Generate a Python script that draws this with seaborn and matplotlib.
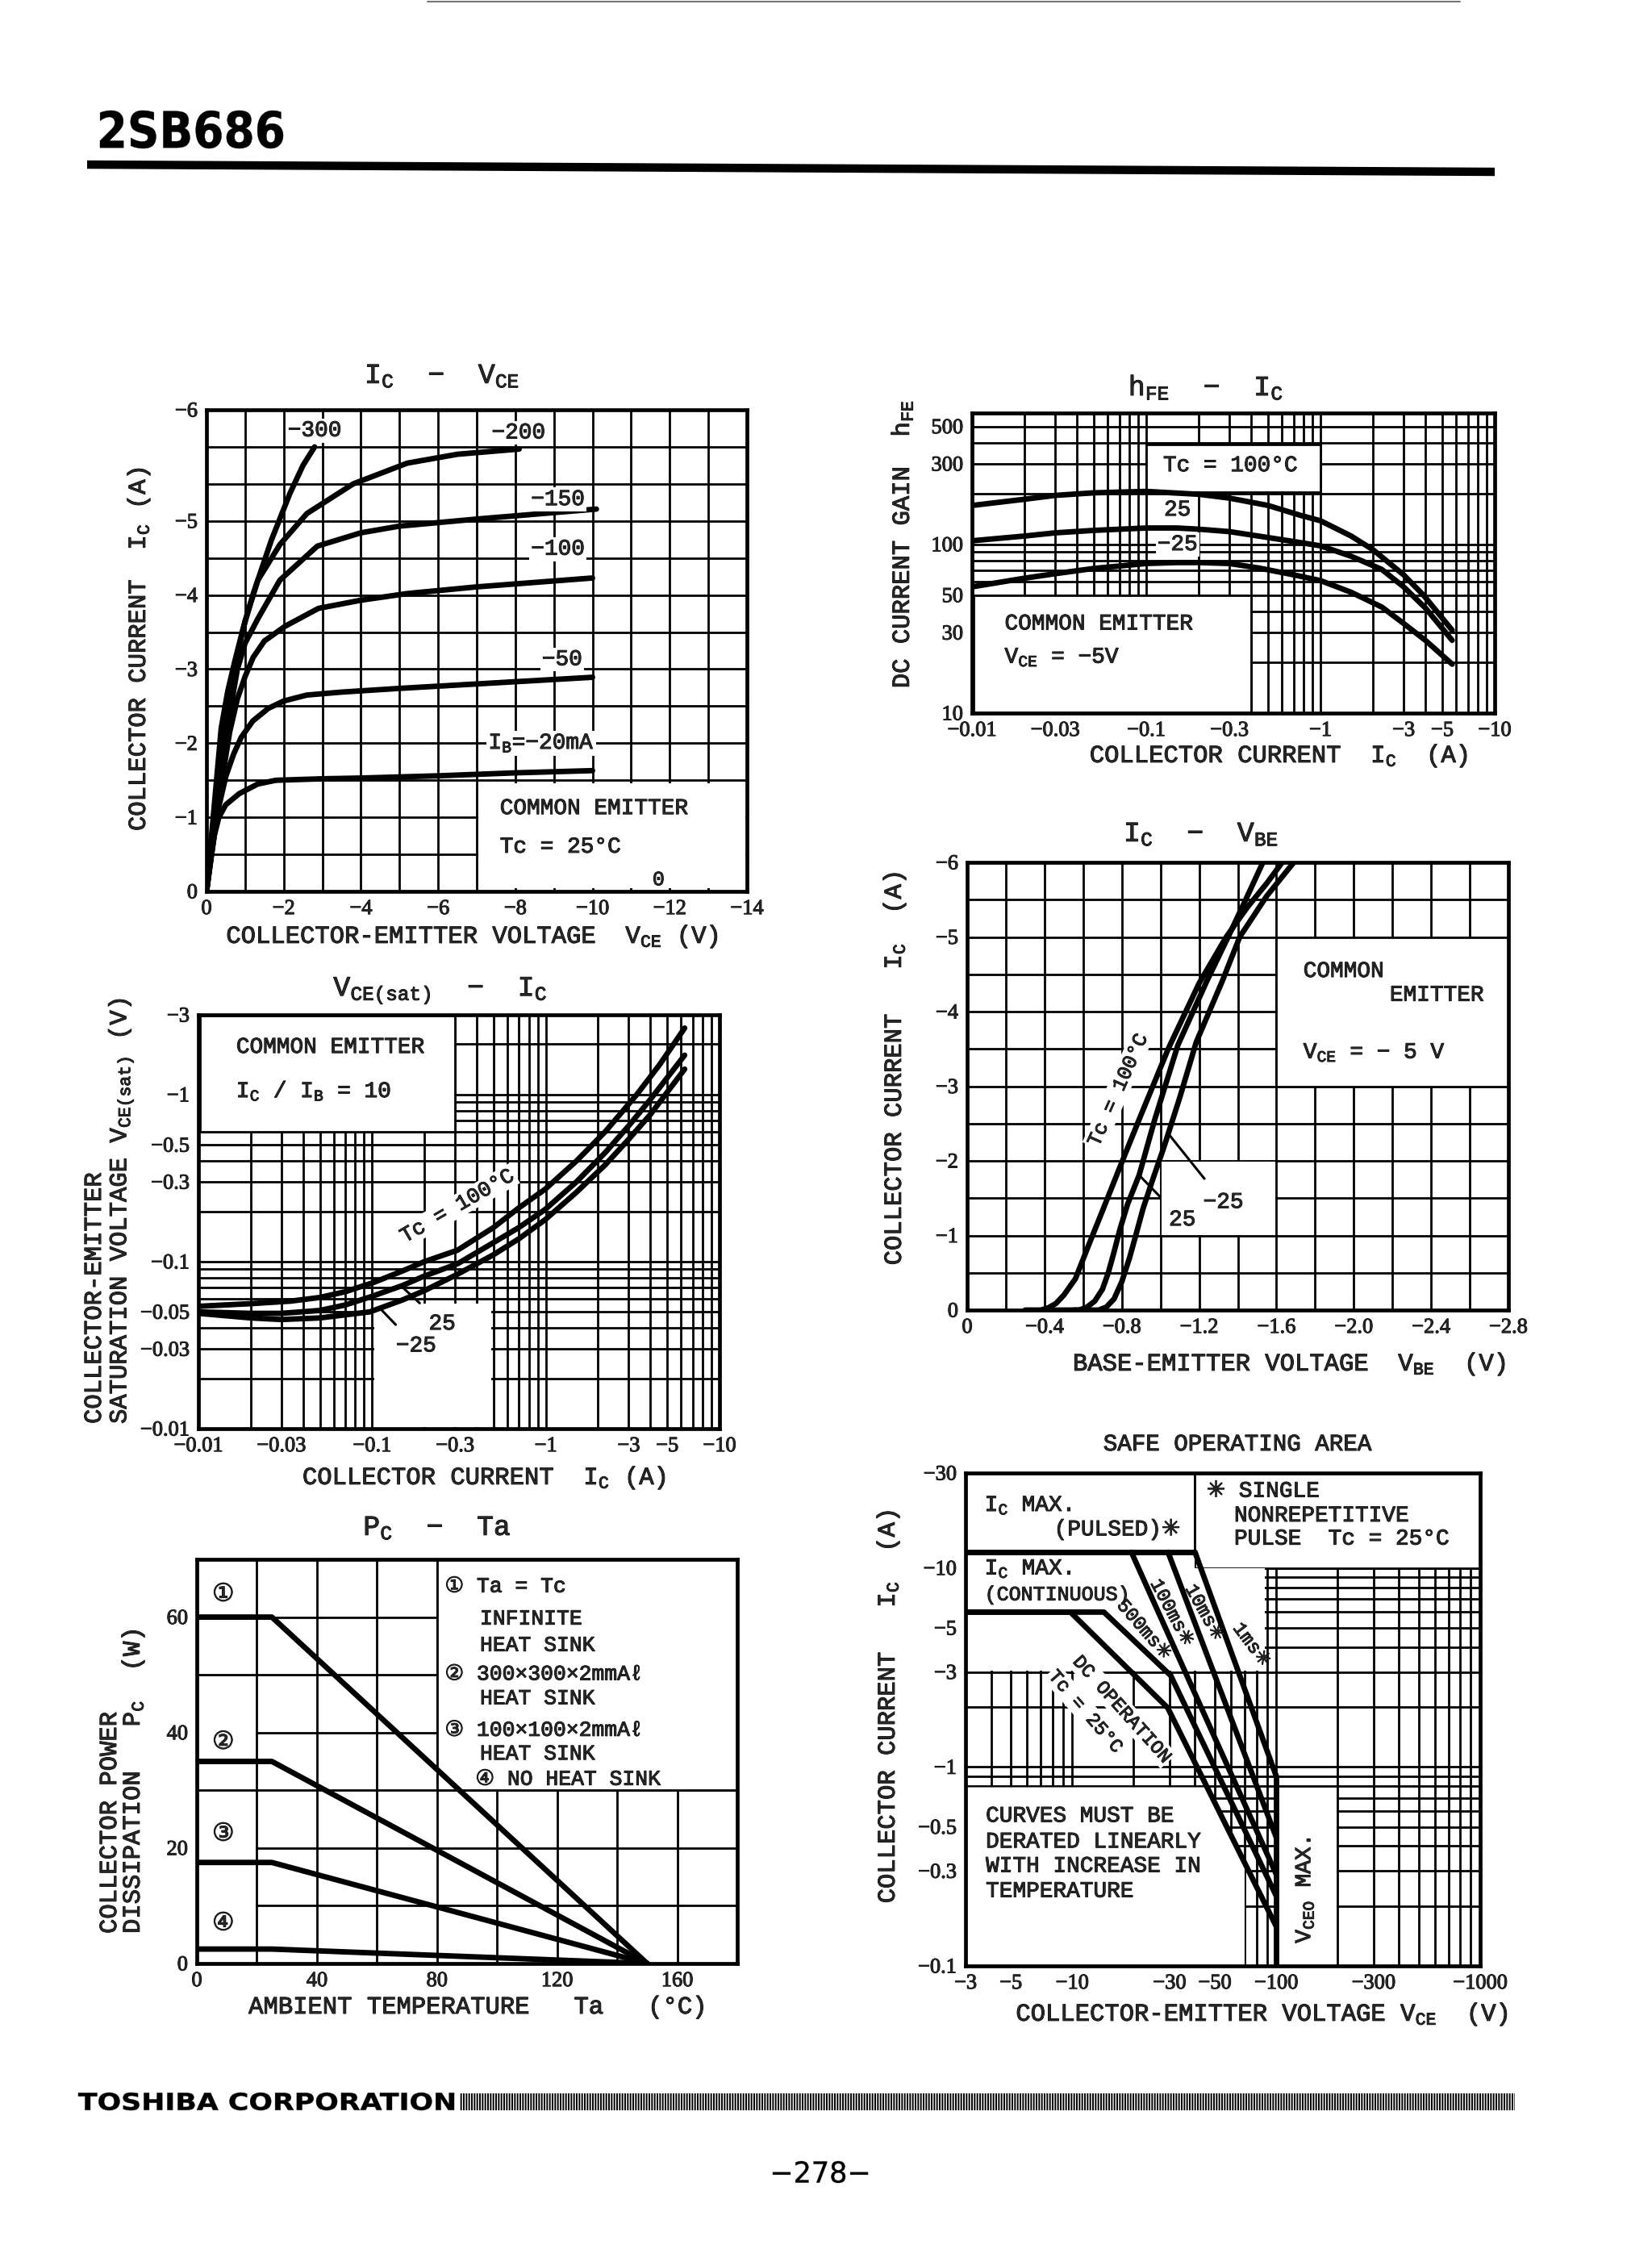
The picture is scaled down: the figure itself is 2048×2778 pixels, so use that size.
import numpy as np
import pandas as pd
import matplotlib
matplotlib.use("Agg")
import matplotlib.pyplot as plt
import matplotlib.patheffects as pe
import matplotlib.text as mtext
import seaborn as sns
from matplotlib.patches import Rectangle, Polygon, PathPatch
from matplotlib.ticker import MultipleLocator, NullFormatter, LogLocator
from matplotlib.textpath import TextPath
from matplotlib.font_manager import FontProperties
from matplotlib.transforms import Affine2D

# ------------------------------------------------------------------ data
# Ic - Vce  (|Vce| in V, |Ic| in A), one curve per base current
ib_labels = ["−300", "−200", "−150", "−100", "−50", "−20mA"]
icvce_300_v = [0, 0.2, 0.38, 0.55, 0.73, 0.95, 1.2, 1.68, 2.16, 2.5, 2.8]
icvce_300_i = [0, 1.15, 2.2, 2.7, 3.1, 3.55, 4.0, 4.74, 5.37, 5.75, 6.0]
icvce_200_v = [0, 0.2, 0.4, 0.6, 0.8, 1.0, 1.33, 1.9, 2.6, 3.8, 5.2, 6.5, 8.1]
icvce_200_i = [0, 0.9, 1.8, 2.6, 3.2, 3.65, 4.2, 4.68, 5.1, 5.5, 5.78, 5.9, 5.97]
icvce_150_v = [0, 0.2, 0.4, 0.6, 0.8, 1.0, 1.33, 1.9, 2.87, 4.0, 5.0, 7.1, 10.1]
icvce_150_i = [0, 0.8, 1.65, 2.4, 3.0, 3.35, 3.68, 4.2, 4.66, 4.84, 4.93, 5.03, 5.16]
icvce_100_v = [0, 0.2, 0.4, 0.6, 0.8, 1.0, 1.21, 1.5, 2.04, 2.9, 4.0, 5.2, 7.0, 10.0]
icvce_100_i = [0, 0.75, 1.5, 2.15, 2.6, 2.9, 3.16, 3.38, 3.58, 3.82, 3.93, 4.02, 4.11, 4.23]
icvce_50_v = [0, 0.15, 0.3, 0.5, 0.7, 0.9, 1.2, 1.6, 2.0, 2.6, 3.5, 5.0, 7.0, 10.0]
icvce_50_i = [0, 0.6, 1.1, 1.55, 1.85, 2.08, 2.3, 2.47, 2.57, 2.65, 2.69, 2.74, 2.8, 2.89]
icvce_20_v = [0, 0.1, 0.2, 0.32, 0.5, 0.85, 1.33, 1.8, 3.0, 4.0, 6.0, 8.0, 10.0]
icvce_20_i = [0, 0.4, 0.75, 1.0, 1.17, 1.32, 1.45, 1.5, 1.52, 1.53, 1.56, 1.6, 1.63]
icvce_xticks = [0, 2, 4, 6, 8, 10, 12, 14]
icvce_xlabels = ["0", "−2", "−4", "−6", "−8", "−10", "−12", "−14"]
icvce_yticks = [0, 1, 2, 3, 4, 5, 6.5]
icvce_ylabels = ["0", "−1", "−2", "−3", "−4", "−5", "−6"]

# hFE - Ic  (|Ic| in A)
hfe_100_ic = [0.01, 0.02, 0.03, 0.05, 0.1, 0.2, 0.3, 0.5, 0.76, 1.0, 1.5, 2.0, 3.0, 3.9, 5.7]
hfe_100_h = [170, 185, 195, 202, 206, 198, 188, 170, 149, 138, 112, 93, 66, 50, 31]
hfe_25_ic = [0.01, 0.02, 0.03, 0.05, 0.1, 0.15, 0.2, 0.3, 0.44, 0.7, 1.0, 1.5, 2.25, 3.0, 4.0, 5.7]
hfe_25_h = [105, 112, 117, 121, 125, 125, 123, 119, 112, 104, 98, 85, 71, 56, 42, 27]
hfe_m25_ic = [0.01, 0.015, 0.02, 0.03, 0.05, 0.1, 0.15, 0.2, 0.3, 0.44, 0.7, 1.0, 1.5, 2.25, 3.0, 4.0, 5.7]
hfe_m25_h = [56, 60, 63, 67, 72, 77, 78, 78, 77, 72.5, 66, 61, 52, 42.5, 34, 27, 19.5]
hfe_xticks = [0.01, 0.03, 0.1, 0.3, 1, 3, 5, 10]
hfe_xlabels = ["−0.01", "−0.03", "−0.1", "−0.3", "−1", "−3", "−5", "−10"]
hfe_yticks = [10, 30, 50, 100, 300, 500]
hfe_ylabels = ["10", "30", "50", "100", "300", "500"]

# Vce(sat) - Ic  (|Ic| in A, |Vce(sat)| in V)
sat_100_ic = [0.01, 0.02, 0.034, 0.05, 0.07, 0.102, 0.15, 0.2, 0.31, 0.5, 0.7, 0.99, 1.5, 2.2, 3.34, 4.5, 6.3]
sat_100_v = [0.054, 0.056, 0.058, 0.061, 0.066, 0.075, 0.088, 0.1, 0.117, 0.16, 0.21, 0.271, 0.4, 0.6, 1.0, 1.5, 2.5]
sat_25_ic = [0.01, 0.02, 0.03, 0.05, 0.07, 0.1, 0.15, 0.2, 0.31, 0.5, 0.7, 0.99, 1.5, 2.2, 3.0, 4.0, 6.3]
sat_25_v = [0.05, 0.049, 0.049, 0.051, 0.055, 0.062, 0.072, 0.082, 0.097, 0.13, 0.16, 0.205, 0.3, 0.45, 0.65, 0.935, 1.72]
sat_m25_ic = [0.01, 0.02, 0.03, 0.05, 0.07, 0.097, 0.15, 0.2, 0.31, 0.5, 0.7, 0.99, 1.5, 2.2, 3.0, 4.0, 6.3]
sat_m25_v = [0.049, 0.046, 0.045, 0.046, 0.048, 0.05, 0.059, 0.067, 0.084, 0.11, 0.137, 0.178, 0.26, 0.38, 0.54, 0.76, 1.42]
sat_yticks = [0.01, 0.03, 0.05, 0.1, 0.3, 0.5, 1, 3]
sat_ylabels = ["−0.01", "−0.03", "−0.05", "−0.1", "−0.3", "−0.5", "−1", "−3"]

# Ic - Vbe  (|Vbe| in V, |Ic| in A)
vbe_100_v = [0.30, 0.38, 0.42, 0.46, 0.50, 0.56, 0.63, 0.70, 0.80, 0.90, 1.04, 1.20, 1.34, 1.45, 1.55, 1.63]
vbe_100_i = [0.0, 0.0, 0.03, 0.09, 0.20, 0.42, 0.88, 1.33, 1.98, 2.62, 3.50, 4.38, 5.00, 5.40, 5.72, 6.00]
vbe_25_v = [0.45, 0.58, 0.62, 0.66, 0.70, 0.73, 0.76, 0.79, 0.83, 0.89, 0.97, 1.09, 1.24, 1.35, 1.45, 1.53]
vbe_25_i = [0.0, 0.0, 0.04, 0.12, 0.28, 0.50, 0.78, 1.08, 1.42, 1.81, 2.55, 3.55, 4.41, 5.00, 5.55, 6.00]
vbe_m25_v = [0.55, 0.68, 0.72, 0.76, 0.80, 0.84, 0.87, 0.91, 0.96, 1.02, 1.10, 1.185, 1.32, 1.41, 1.55, 1.69]
vbe_m25_i = [0.0, 0.0, 0.04, 0.15, 0.38, 0.70, 0.98, 1.36, 1.75, 2.20, 2.85, 3.59, 4.41, 5.00, 5.55, 6.00]
vbe_xticks = [0, 0.4, 0.8, 1.2, 1.6, 2.0, 2.4, 2.8]
vbe_xlabels = ["0", "−0.4", "−0.8", "−1.2", "−1.6", "−2.0", "−2.4", "−2.8"]
vbe_yticks = [0, 1, 2, 3, 4, 5, 6]
vbe_ylabels = ["0", "−1", "−2", "−3", "−4", "−5", "−6"]

# Pc - Ta
pc_ta = [0, 25, 150]
pc_1 = [60, 60, 0]
pc_2 = [35, 35, 0]
pc_3 = [17.5, 17.5, 0]
pc_4 = [2.5, 2.5, 0]
pc_xticks = [0, 40, 80, 120, 160]
pc_yticks = [0, 20, 40, 60]

# Safe operating area  (|Vce| in V, |Ic| in A)
soa_pulsed_v = [3, 40]
soa_pulsed_i = [12, 12]
soa_dc_v = [3, 9.8, 29.4, 100]
soa_dc_i = [6, 6, 1.98, 0.158]
soa_500ms_v = [3, 14.3, 30.4, 100]
soa_500ms_i = [6, 6, 2.88, 0.225]
soa_100ms_v = [19.5, 100]
soa_100ms_i = [12, 0.289]
soa_10ms_v = [29.5, 100]
soa_10ms_i = [12, 0.443]
soa_1ms_v = [40, 100]
soa_1ms_i = [12, 0.9]
soa_vceo_v = [100, 100]
soa_vceo_i = [0.1, 0.9]
soa_xticks = [3, 5, 10, 30, 50, 100, 300, 1000]
soa_xlabels = ["−3", "−5", "−10", "−30", "−50", "−100", "−300", "−1000"]
soa_yticks = [0.1, 0.3, 0.5, 1, 3, 5, 10, 30]
soa_ylabels = ["−0.1", "−0.3", "−0.5", "−1", "−3", "−5", "−10", "−30"]

# ------------------------------------------------------------------ style
sns.set_theme(style="white")
MONO = ["Liberation Mono", "DejaVu Sans", "Noto Sans CJK JP"]
SERIF = ["Liberation Serif", "DejaVu Serif"]
plt.rcParams["font.family"] = MONO
plt.rcParams["mathtext.fontset"] = "custom"
plt.rcParams["mathtext.rm"] = "Liberation Mono"
plt.rcParams["mathtext.it"] = "Liberation Mono"
plt.rcParams["mathtext.bf"] = "Liberation Mono:bold"
plt.rcParams["axes.axisbelow"] = True
plt.rcParams["hatch.linewidth"] = 1.4

W, H = 2048, 2778
fig = plt.figure(figsize=(W / 100, H / 100), dpi=100)
fig.patch.set_facecolor("white")

GRID_LW = 2.0
CURVE_LW = 4.9
TICK_FS = 19
LAB_FS = 22
TTL_FS = 25
TXT_FS = 20


def box(l, t, r, b):
    return [l / W, 1 - b / H, (r - l) / W, (b - t) / H]


def ftext(x, y, s, **kw):
    kw.setdefault("family", MONO)
    kw.setdefault("fontsize", LAB_FS)
    fig.text(x / W, 1 - y / H, s, **kw)


def ylab_up(x, ybottom, s, size=LAB_FS):
    fig.text(x / W, 1 - ybottom / H, s, rotation=90, rotation_mode="anchor",
             ha="left", va="center", fontsize=size, family=MONO)


def style(ax):
    for sp in ax.spines.values():
        sp.set_visible(True)
        sp.set_color("black")
        sp.set_linewidth(3.4)
        sp.set_zorder(4)
    ax.grid(True, which="both", color="black", lw=GRID_LW)
    ax.tick_params(which="both", length=0, pad=8)
    ax.set_facecolor("white")
    ax.set_xlabel("")
    ax.set_ylabel("")


def wrect(ax, x0, y0, x1, y1, ec="none"):
    ax.add_patch(Rectangle((x0, y0), x1 - x0, y1 - y0, fc="white", ec=ec,
                           lw=GRID_LW, zorder=1))


def curve(ax, x, y):
    sns.lineplot(x=x, y=y, ax=ax, color="black", lw=CURVE_LW, estimator=None,
                 sort=False, zorder=3)


def txt(ax, x, y, s, size=TXT_FS, bg=True, **kw):
    if bg:
        kw["bbox"] = dict(fc="white", ec="none", pad=1.5)
    kw.setdefault("ha", "left")
    kw.setdefault("va", "center")
    ax.text(x, y, s, fontsize=size, family=MONO, zorder=6, **kw)


def ticks(ax, xt, xl, yt, yl):
    ax.set_xticks(xt, labels=xl, fontsize=TICK_FS, family=SERIF)
    ax.set_yticks(yt, labels=yl, fontsize=TICK_FS, family=SERIF)


# ------------------------------------------------------------------ header / footer (page overlay)
axo = fig.add_axes([0, 0, 1, 1], zorder=-5)
axo.set_xlim(0, W)
axo.set_ylim(H, 0)
axo.axis("off")


def fit_text(s, x0, y0, x1, y1, family, weight="normal"):
    tp = TextPath((0, 0), s, size=1, prop=FontProperties(family=family, weight=weight))
    bb = tp.get_extents()
    tr = (Affine2D().translate(-bb.x0, -bb.y0)
          .scale((x1 - x0) / bb.width, -(y1 - y0) / bb.height)
          .translate(x0, y1))
    axo.add_patch(PathPatch(tr.transform_path(tp), fc="black", ec="black", lw=0.3))


fit_text("2SB686", 124, 137, 351, 184, "DejaVu Sans", "bold")
axo.plot([108, 1853], [204, 213], color="black", lw=7.5, solid_capstyle="butt")
axo.plot([530, 1810], [2, 2], color="#777777", lw=1.5)
fit_text("TOSHIBA CORPORATION", 97, 2594, 563, 2616, "DejaVu Sans", "bold")
axo.add_patch(Rectangle((570, 2595), 1308, 21, fc="white", ec="black", lw=0, hatch="|||||"))
fit_text("−278−", 958, 2679, 1076, 2706, "DejaVu Sans", "normal")

# ------------------------------------------------------------------ 1: Ic - Vce
ax1 = fig.add_axes(box(256, 508, 926, 1105))
ax1.set_xlim(0, 14)
ax1.set_ylim(0, 6.5)
for v, i in [(icvce_300_v, icvce_300_i), (icvce_200_v, icvce_200_i),
             (icvce_150_v, icvce_150_i), (icvce_100_v, icvce_100_i),
             (icvce_50_v, icvce_50_i), (icvce_20_v, icvce_20_i)]:
    curve(ax1, v, i)
style(ax1)
ticks(ax1, icvce_xticks, icvce_xlabels, icvce_yticks, icvce_ylabels)
ax1.xaxis.set_minor_locator(MultipleLocator(1))
ax1.yaxis.set_minor_locator(MultipleLocator(0.5))
wrect(ax1, 7.05, 0.04, 13.95, 1.46)
txt(ax1, 2.8, 6.22, ib_labels[0], ha="center")
txt(ax1, 8.08, 6.19, ib_labels[1], ha="center")
txt(ax1, 9.1, 5.29, ib_labels[2], ha="center")
txt(ax1, 9.1, 4.62, ib_labels[3], ha="center")
txt(ax1, 9.21, 3.13, ib_labels[4], ha="center")
txt(ax1, 7.3, 2.0, "I$_\\mathrm{B}$=" + ib_labels[5], ha="left")
txt(ax1, 11.71, 0.16, "0", size=18, ha="center", bg=False)
txt(ax1, 7.6, 1.12, "COMMON EMITTER", bg=False)
txt(ax1, 7.6, 0.6, "Tc = 25°C", bg=False)
ftext(548, 466, "I$_\\mathrm{C}$  −  V$_\\mathrm{CE}$", fontsize=TTL_FS, ha="center", va="center")
ftext(172, 805, "COLLECTOR CURRENT  I$_\\mathrm{C}$ (A)", rotation=90, ha="center", va="center")
ftext(585, 1161, "COLLECTOR-EMITTER VOLTAGE  V$_\\mathrm{CE}$ (V)", ha="center", va="center")

# ------------------------------------------------------------------ 2: hFE - Ic
ax2 = fig.add_axes(box(1205, 512, 1853, 884))
ax2.set_xscale("log")
ax2.set_yscale("log")
ax2.set_xlim(0.01, 10)
ax2.set_ylim(10, 600)
for x, y in [(hfe_100_ic, hfe_100_h), (hfe_25_ic, hfe_25_h), (hfe_m25_ic, hfe_m25_h)]:
    curve(ax2, x, y)
style(ax2)
ticks(ax2, hfe_xticks, hfe_xlabels, hfe_yticks, hfe_ylabels)
ax2.xaxis.set_minor_locator(LogLocator(base=10, subs=np.arange(2, 10)))
ax2.yaxis.set_minor_locator(LogLocator(base=10, subs=np.arange(2, 10)))
ax2.xaxis.set_minor_formatter(NullFormatter())
ax2.yaxis.set_minor_formatter(NullFormatter())
wrect(ax2, 0.1, 205, 1.0, 392, ec="black")
wrect(ax2, 0.0102, 10.15, 0.4, 50, ec="black")
txt(ax2, 0.125, 293, "Tc = 100°C", bg=False)
txt(ax2, 0.151, 160, "25", ha="center")
txt(ax2, 0.151, 99.8, "−25", ha="center")
txt(ax2, 0.0154, 33.8, "COMMON EMITTER", bg=False)
txt(ax2, 0.0154, 21.4, "V$_\\mathrm{CE}$ = −5V", bg=False)
ftext(1495, 480, "h$_\\mathrm{FE}$  −  I$_\\mathrm{C}$", fontsize=TTL_FS, ha="center", va="center")
ftext(1118, 675, "DC CURRENT GAIN  h$_\\mathrm{FE}$", rotation=90, ha="center", va="center")
ftext(1585, 937, "COLLECTOR CURRENT  I$_\\mathrm{C}$  (A)", ha="center", va="center")

# ------------------------------------------------------------------ 3: Vce(sat) - Ic
ax3 = fig.add_axes(box(246, 1258, 892, 1771))
ax3.set_xscale("log")
ax3.set_yscale("log")
ax3.set_xlim(0.01, 10)
ax3.set_ylim(0.01, 3)
for x, y in [(sat_100_ic, sat_100_v), (sat_25_ic, sat_25_v), (sat_m25_ic, sat_m25_v)]:
    curve(ax3, x, y)
style(ax3)
ticks(ax3, hfe_xticks, hfe_xlabels, sat_yticks, sat_ylabels)
ax3.xaxis.set_minor_locator(LogLocator(base=10, subs=np.arange(2, 10)))
ax3.yaxis.set_minor_locator(LogLocator(base=10, subs=np.arange(2, 10)))
ax3.xaxis.set_minor_formatter(NullFormatter())
ax3.yaxis.set_minor_formatter(NullFormatter())
wrect(ax3, 0.0102, 0.6, 0.3, 2.97, ec="black")
wrect(ax3, 0.103, 0.0102, 0.485, 0.056)
txt(ax3, 0.0165, 1.92, "COMMON EMITTER", bg=False)
txt(ax3, 0.0165, 1.05, "I$_\\mathrm{C}$ / I$_\\mathrm{B}$ = 10", bg=False)
txt(ax3, 0.31, 0.215, "Tc = 100°C", size=19, rotation=30, rotation_mode="anchor", ha="center")
ax3.annotate("25", xy=(0.150, 0.070), xytext=(0.253, 0.0424), fontsize=TXT_FS, family=MONO,
             ha="center", va="center", zorder=6,
             arrowprops=dict(arrowstyle="-", lw=2.2, color="black", shrinkA=10, shrinkB=0))
ax3.annotate("−25", xy=(0.112, 0.052), xytext=(0.179, 0.0313), fontsize=TXT_FS, family=MONO,
             ha="center", va="center", zorder=6,
             arrowprops=dict(arrowstyle="-", lw=2.2, color="black", shrinkA=10, shrinkB=0))
ftext(546, 1228, "V$_\\mathrm{CE(sat)}$  −  I$_\\mathrm{C}$", fontsize=TTL_FS, ha="center", va="center")
ylab_up(117, 1765, "COLLECTOR-EMITTER")
ylab_up(150, 1765, "SATURATION VOLTAGE V$_\\mathrm{CE(sat)}$ (V)")
ftext(600, 1832, "COLLECTOR CURRENT  I$_\\mathrm{C}$ (A)", ha="center", va="center")

# ------------------------------------------------------------------ 4: Ic - Vbe
ax4 = fig.add_axes(box(1199, 1069, 1870, 1624))
ax4.set_xlim(0, 2.8)
ax4.set_ylim(0, 6)
for v, i in [(vbe_100_v, vbe_100_i), (vbe_25_v, vbe_25_i), (vbe_m25_v, vbe_m25_i)]:
    curve(ax4, v, i)
style(ax4)
ticks(ax4, vbe_xticks, vbe_xlabels, vbe_yticks, vbe_ylabels)
ax4.xaxis.set_minor_locator(MultipleLocator(0.2))
ax4.yaxis.set_minor_locator(MultipleLocator(0.5))
wrect(ax4, 1.6, 3.0, 2.8, 5.0, ec="black")
wrect(ax4, 1.005, 1.01, 1.595, 1.99)
txt(ax4, 1.739, 4.54, "COMMON", bg=False)
txt(ax4, 2.186, 4.22, "EMITTER", bg=False)
txt(ax4, 1.739, 3.45, "V$_\\mathrm{CE}$ = − 5 V", bg=False)
txt(ax4, 0.78, 2.95, "Tc = 100°C", size=18, rotation=66, rotation_mode="anchor", ha="center")
ax4.annotate("−25", xy=(1.045, 2.35), xytext=(1.325, 1.445), fontsize=TXT_FS, family=MONO,
             ha="center", va="center", zorder=6,
             arrowprops=dict(arrowstyle="-", lw=2.2, color="black", shrinkA=12, shrinkB=0))
ax4.annotate("25", xy=(0.889, 1.81), xytext=(1.113, 1.21), fontsize=TXT_FS, family=MONO,
             ha="center", va="center", zorder=6,
             arrowprops=dict(arrowstyle="-", lw=2.2, color="black", shrinkA=12, shrinkB=0))
ftext(1489, 1034, "I$_\\mathrm{C}$  −  V$_\\mathrm{BE}$", fontsize=TTL_FS, ha="center", va="center")
ftext(1109, 1325, "COLLECTOR CURRENT   I$_\\mathrm{C}$  (A)", rotation=90, ha="center", va="center")
ftext(1598, 1691, "BASE-EMITTER VOLTAGE  V$_\\mathrm{BE}$  (V)", ha="center", va="center")

# ------------------------------------------------------------------ 5: Pc - Ta
ax5 = fig.add_axes(box(244, 1933, 914, 2434))
ax5.set_xlim(0, 180)
ax5.set_ylim(0, 70)
wrect(ax5, 0.4, 1, 19.6, 29)
wrect(ax5, 0.4, 31, 19.6, 49)
wrect(ax5, 80, 30, 180, 70, ec="black")
for p in [pc_1, pc_2, pc_3, pc_4]:
    curve(ax5, pc_ta, p)
style(ax5)
ticks(ax5, pc_xticks, [str(t) for t in pc_xticks], pc_yticks, [str(t) for t in pc_yticks])
ax5.xaxis.set_minor_locator(MultipleLocator(20))
ax5.yaxis.set_minor_locator(MultipleLocator(10))
for lbl, yy in [("①", 63.9), ("②", 38.3), ("③", 22.4), ("④", 6.9)]:
    txt(ax5, 8.8, yy, lbl, size=22, ha="center")
leg_lines = [(82.6, 65.3, "① Ta = Tc"), (94.3, 59.7, "INFINITE"), (94.3, 55.1, "HEAT SINK"),
             (82.6, 50.1, "② 300×300×2mmAℓ"), (94.3, 45.9, "HEAT SINK"),
             (82.6, 40.4, "③ 100×100×2mmAℓ"), (94.3, 36.3, "HEAT SINK"),
             (92.8, 31.9, "④ NO HEAT SINK")]
for xx, yy, s in leg_lines:
    txt(ax5, xx, yy, s, size=19, bg=False)
ftext(542, 1894, "P$_\\mathrm{C}$  −  Ta", fontsize=TTL_FS, ha="center", va="center")
ylab_up(136, 2397, "COLLECTOR POWER")
ylab_up(165, 2397, "DISSIPATION   P$_\\mathrm{C}$  (W)")
ftext(591, 2488, "AMBIENT TEMPERATURE   Ta   (°C)", ha="center", va="center")

# ------------------------------------------------------------------ 6: SOA
ax6 = fig.add_axes(box(1197, 1826, 1835, 2437))
ax6.set_xscale("log")
ax6.set_yscale("log")
ax6.set_xlim(3, 1000)
ax6.set_ylim(0.1, 30)
wrect(ax6, 3, 12, 40, 30, ec="black")
wrect(ax6, 40, 10, 1000, 30, ec="black")
ax6.add_patch(Polygon([(3.02, 3.05), (3.02, 12), (40, 12), (40, 10), (88, 10), (88, 3.05)],
                      closed=True, fc="white", ec="none", zorder=1))
ax6.add_patch(Polygon([(3.02, 0.101), (3.02, 0.79), (45, 0.79), (70, 0.316), (70, 0.101)],
                      closed=True, fc="white", ec="none", zorder=1))
wrect(ax6, 101.5, 0.101, 197, 0.79)
for x, y in [(soa_pulsed_v, soa_pulsed_i), (soa_dc_v, soa_dc_i), (soa_500ms_v, soa_500ms_i),
             (soa_100ms_v, soa_100ms_i), (soa_10ms_v, soa_10ms_i), (soa_1ms_v, soa_1ms_i),
             (soa_vceo_v, soa_vceo_i)]:
    curve(ax6, x, y)
style(ax6)
ticks(ax6, soa_xticks, soa_xlabels, soa_yticks, soa_ylabels)
ax6.xaxis.set_minor_locator(LogLocator(base=10, subs=np.arange(2, 10)))
ax6.yaxis.set_minor_locator(LogLocator(base=10, subs=np.arange(2, 10)))
ax6.xaxis.set_minor_formatter(NullFormatter())
ax6.yaxis.set_minor_formatter(NullFormatter())
STAR = "✳"
txt(ax6, 3.72, 20.6, "I$_\\mathrm{C}$ MAX.", bg=False)
txt(ax6, 8.14, 15.6, "(PULSED)" + STAR, bg=False)
txt(ax6, 3.72, 9.9, "I$_\\mathrm{C}$ MAX.", bg=False)
txt(ax6, 3.72, 7.35, "(CONTINUOUS)", size=18, bg=False)
txt(ax6, 45.6, 24.3, STAR + " SINGLE", bg=False)
txt(ax6, 62.2, 18.3, "NONREPETITIVE", bg=False)
txt(ax6, 62.2, 14.0, "PULSE  Tc = 25°C", bg=False)
txt(ax6, 22.5, 4.9, "500ms" + STAR, size=17, rotation=-49, rotation_mode="anchor", ha="center", bg=False)
txt(ax6, 30.8, 5.97, "100ms" + STAR, size=17, rotation=-62, rotation_mode="anchor", ha="center", bg=False)
txt(ax6, 44.5, 5.97, "10ms" + STAR, size=17, rotation=-61, rotation_mode="anchor", ha="center", bg=False)
txt(ax6, 75.8, 4.11, "1ms" + STAR, size=17, rotation=-53, rotation_mode="anchor", ha="center", bg=False)
txt(ax6, 17.5, 1.95, "DC OPERATION", size=17, rotation=-48, rotation_mode="anchor", ha="center")
txt(ax6, 11.6, 1.9, "Tc = 25°C", size=17, rotation=-49, rotation_mode="anchor", ha="center")
for yy, s in [(0.566, "CURVES MUST BE"), (0.42, "DERATED LINEARLY"),
              (0.317, "WITH INCREASE IN"), (0.237, "TEMPERATURE")]:
    txt(ax6, 3.77, yy, s, bg=False)
txt(ax6, 138, 0.24, "V$_\\mathrm{CEO}$ MAX.", rotation=90, rotation_mode="anchor", ha="center", bg=False)
ftext(1534, 1790, "SAFE OPERATING AREA", fontsize=21, ha="center", va="center")
ftext(1101, 2116, "COLLECTOR CURRENT   I$_\\mathrm{C}$  (A)", rotation=90, ha="center", va="center")
ftext(1564, 2497, "COLLECTOR-EMITTER VOLTAGE V$_\\mathrm{CE}$  (V)", ha="center", va="center")

# slightly heavier type, like the typewritten original
for t in fig.findobj(mtext.Text):
    t.set_path_effects([pe.withStroke(linewidth=0.7, foreground="black")])

fig.savefig("out.png", dpi=100, facecolor="white")
